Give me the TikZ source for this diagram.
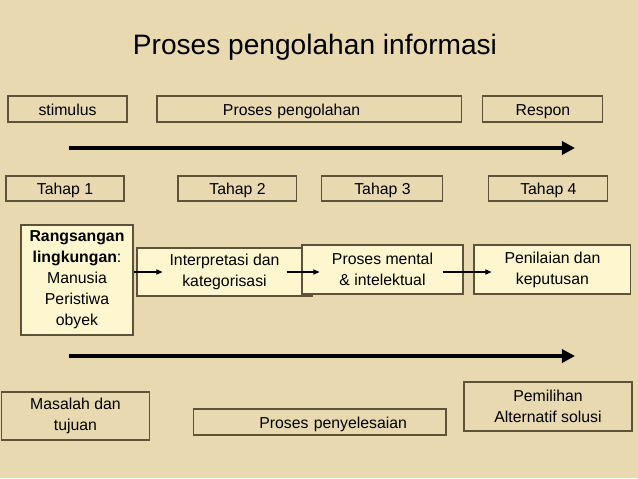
\documentclass[tikz,border=0pt]{standalone}
\usepackage{fontspec}
\setmainfont{Liberation Sans}
\usetikzlibrary{positioning,arrows.meta}
\definecolor{kertas}{RGB}{233,217,177}
\definecolor{garis}{RGB}{95,82,58}
\definecolor{isian}{RGB}{253,246,206}

\begin{document}
\begin{tikzpicture}[x=0.02cm,y=-0.02cm,on grid,
   kotak/.style={draw=garis,line width=0.6pt,inner sep=0pt,minimum height=0.52cm,
      font=\fontsize{9}{12}\selectfont},
   kotaksatu/.style={kotak,text height=8pt,text depth=1pt},
   kotakisi/.style={kotak,fill=isian,align=center,minimum height=0.96cm},
   panah/.style={line width=2.3pt,-{Triangle[length=7.5pt,width=7.5pt]}},
   panahkecil/.style={line width=0.6pt,-{Triangle[length=3.5pt,width=3pt]}}]
   \useasboundingbox[fill=kertas] (0,0) rectangle (638,478);
   \node[font=\fontsize{16}{19}\selectfont] (judul) at (315,47) {Proses pengolahan informasi};

   \node[kotaksatu,minimum width=2.38cm] (stim) at (67.5,109) {stimulus};
   \node[kotaksatu,text width=3.46cm,inner xsep=1.32cm,align=left] (olah) [right=4.84cm of stim] {Proses pengolahan};
   \node[kotaksatu,minimum width=2.4cm] (resp) [right=4.67cm of olah] {Respon};

   \coordinate (a1) at (69,148);
   \coordinate (b1) at (575,148);

   \node[kotaksatu,minimum width=2.36cm,minimum height=0.5cm] (t1) at (65,188.5) {Tahap 1};
   \node[kotaksatu,minimum width=2.38cm,minimum height=0.5cm] (t2) [right=3.45cm of t1] {Tahap 2};
   \node[kotaksatu,minimum width=2.42cm,minimum height=0.5cm] (t3) [right=2.9cm of t2] {Tahap 3};
   \node[kotaksatu,minimum width=2.38cm,minimum height=0.5cm] (t4) [right=3.32cm of t3] {Tahap 4};

   \node[kotakisi,minimum width=2.24cm,minimum height=2.2cm] (rang) at (77,280)
      {\textbf{Rangsangan}\\\textbf{lingkungan}:\\Manusia\\Peristiwa\\obyek};
   \node[kotakisi,minimum width=3.5cm] (intp) at (224.5,272) {Interpretasi dan\\kategorisasi};
   \node[kotakisi,minimum width=3.22cm,minimum height=0.98cm] (ment) at (382.5,269.5) {Proses mental\\\& intelektual};
   \node[kotakisi,minimum width=3.14cm,minimum height=0.98cm] (nilai) [right=3.4cm of ment] {Penilaian dan\\keputusan};

   \coordinate (a2) at (69,356);
   \coordinate (b2) at (575,356);

   \node[kotak,align=center,minimum width=2.96cm,minimum height=0.96cm] (masl) at (75.5,416) {Masalah dan\\tujuan};
   \node[kotaksatu,text width=3.5cm,inner xsep=0.78cm,align=right] (selsai) at (319.5,422) {Proses penyelesaian};
   \node[kotak,align=center,minimum width=3.36cm,minimum height=0.98cm] (pilih) at (548,406.5) {Pemilihan\\Alternatif solusi};

   \draw[panah] (a1) -- (b1);
   \draw[panah] (a2) -- (b2);
   \draw[panahkecil] (rang.east |- intp.west) -- ([xshift=0.52cm]intp.west);
   \draw[panahkecil] ([xshift=-0.52cm]intp.east) -- ([xshift=0.36cm]ment.west |- intp.east);
   \draw[panahkecil] ([xshift=-0.42cm]ment.east |- intp.east) -- ([xshift=0.36cm]nilai.west |- intp.east);
\end{tikzpicture}
\end{document}
